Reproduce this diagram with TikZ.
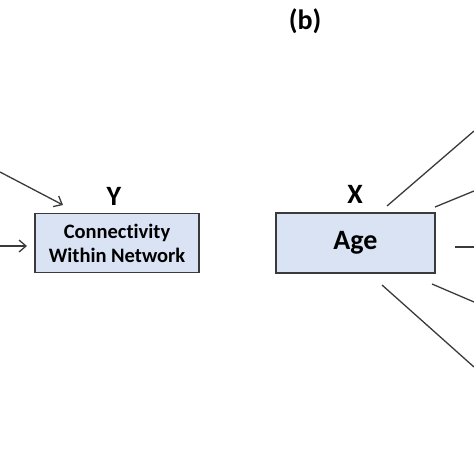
\documentclass[tikz,border=0pt]{standalone}
\usepackage{fontspec}
\setmainfont{Carlito}[Ligatures={NoCommon}]
\usetikzlibrary{calc,arrows.meta}
\definecolor{boxblue}{HTML}{DAE3F3}
\definecolor{edgegray}{HTML}{3A3A3A}
\tikzset{
	var/.style={draw=edgegray,line width=1.4pt,fill=boxblue,inner sep=0pt,align=center,font=\bfseries},
	varlabel/.style={font=\fontsize{28}{28}\selectfont\bfseries},
	link/.style={draw=edgegray,line width=1.3pt},
	tip/.style={-{Straight Barb[length=7pt,width=12pt,line width=1.3pt]}}
}
\begin{document}
\begin{tikzpicture}[x=1pt,y=-1pt]
					\useasboundingbox (0,0) rectangle (474,474);
					%PANEL
					\node[varlabel] (panel) at (305,21) {(b)};
					%BOXES
					\node[var,minimum width=164pt,minimum height=59pt,font=\fontsize{20.5}{24}\selectfont\bfseries] (conn) at (117,243) {Connectivity\\Within Network};
					\node[varlabel] (ylab) at (114,196) {Y};
					\node[var,minimum width=159pt,minimum height=60pt,font=\fontsize{28}{28}\selectfont\bfseries] (age) at (355.5,243) {Age};
					\node[varlabel] (xlab) at (355,194) {X};
					%FREE ENDS
					\coordinate (inA) at (0,172);
					\coordinate (inA') at (63,205);
					\coordinate (inB) at (0,246);
					\coordinate (inB') at (27,246);
					\coordinate (outA) at (387,206);
					\coordinate (outA') at (474,131);
					\coordinate (outB) at (435,207);
					\coordinate (outB') at (474,191);
					\coordinate (outC) at (455,247);
					\coordinate (outC') at (474,247);
					\coordinate (outD) at (432,284);
					\coordinate (outD') at (474,302);
					\coordinate (outE) at (382,285);
					\coordinate (outE') at (474,367);
					%ARROWS INTO Y
					\draw[link,tip] (inA) -- (inA');
					\draw[link,tip] (inB) -- (inB');
					%LINES OUT OF X
					\foreach \p in {outA,outB,outC,outD,outE}
						\draw[link] (\p) -- (\p');
\end{tikzpicture}
\end{document}
